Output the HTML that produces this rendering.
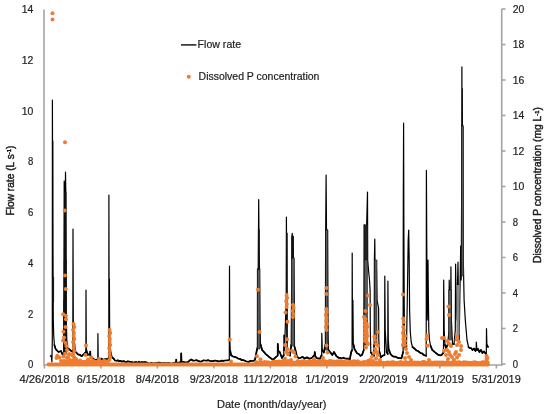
<!DOCTYPE html>
<html><head><meta charset="utf-8"><style>
html,body{margin:0;padding:0;background:#fff;width:550px;height:414px;overflow:hidden}
svg{display:block}
</style></head><body>
<svg width="550" height="414" viewBox="0 0 550 414">
<rect width="550" height="414" fill="#fff"/>
<g stroke="#a4a4a4" stroke-width="1.6" fill="none">
<line x1="44" y1="9.5" x2="44" y2="365.5"/>
<line x1="501.7" y1="9" x2="501.7" y2="365.5"/>
<line x1="43.2" y1="365" x2="502.5" y2="365"/>
<line x1="501.7" y1="364" x2="505.5" y2="364"/><line x1="501.7" y1="328.5" x2="505.5" y2="328.5"/><line x1="501.7" y1="293" x2="505.5" y2="293"/><line x1="501.7" y1="257.5" x2="505.5" y2="257.5"/><line x1="501.7" y1="222" x2="505.5" y2="222"/><line x1="501.7" y1="186.5" x2="505.5" y2="186.5"/><line x1="501.7" y1="151" x2="505.5" y2="151"/><line x1="501.7" y1="115.5" x2="505.5" y2="115.5"/><line x1="501.7" y1="80" x2="505.5" y2="80"/><line x1="501.7" y1="44.5" x2="505.5" y2="44.5"/><line x1="501.7" y1="9" x2="505.5" y2="9"/><line x1="44.4" y1="365" x2="44.4" y2="368.5"/><line x1="100.9" y1="365" x2="100.9" y2="368.5"/><line x1="157.4" y1="365" x2="157.4" y2="368.5"/><line x1="213.9" y1="365" x2="213.9" y2="368.5"/><line x1="270.4" y1="365" x2="270.4" y2="368.5"/><line x1="326.9" y1="365" x2="326.9" y2="368.5"/><line x1="383.4" y1="365" x2="383.4" y2="368.5"/><line x1="439.9" y1="365" x2="439.9" y2="368.5"/><line x1="496.4" y1="365" x2="496.4" y2="368.5"/>
</g>
<polyline points="50,356.5 50.8,355.5 51.4,357 51.9,362 52.3,340 52.4,100 52.6,170 52.85,141 53,250 53.1,278 53.3,320 53.7,335 54.4,345 55.3,348 56,349.5 58.5,352 61,351 62.7,355 63.7,353 64.2,181 64.5,305 65.5,172 65.8,192 66.3,320 66.8,340 67.8,348.4 69.35,349.3 70.9,350.7 72.8,352 73,229 73.3,320 74,340 75.7,352 78,354.4 79.85,354.81 81.7,356.2 84,354 85.9,352 86,290 86.3,350 87.7,355 89.5,354 90.1,355 90.2,351.6 90.5,356 91.85,357.51 93.2,358.6 95.6,360.5 97.8,359 97.9,333.5 98.2,358.6 100,359 101.33,358.57 102.67,359.38 104,359.5 105.5,359.21 107,359.3 108.8,358 108.9,195 109.1,300 109.4,279 109.7,340 110.5,352 111.9,357.4 113.45,358.33 115,360.5 116.4,360.75 117.8,360.33 119.2,361.13 120.6,360.86 122,361.7 123.43,361.17 124.86,361.68 126.29,362.29 127.71,361.34 129.14,361.53 130.57,362.14 132,362 133.38,362.68 134.75,362.21 136.12,362.01 137.5,362.87 138.88,361.62 140.25,362.8 141.62,362.06 143,362.4 144.4,362.08 145.8,362.22 147.2,362.67 148.6,363.56 150,363.3 151.33,362.85 152.67,363.41 154,363.49 155.33,363.12 156.67,363.37 158,362.69 159.33,362.68 160.67,362.89 162,363.55 163.33,363.2 164.67,363.04 166,363.42 167.33,363.23 168.67,363.02 170,363.3 171.53,363.64 173.05,363.43 174.57,362.72 176.1,363 176.2,359.6 176.5,363 178.03,362.77 179.57,362.37 181.1,362 181.2,353.3 181.5,362 183.5,361.8 184.9,362.49 186.3,362.45 187.7,362.3 189.55,360.6 191.4,359.5 193.2,360.67 195,360.5 196.6,360.19 198.2,360.84 199.8,361.53 201.4,361.4 203.2,360.46 205,360.5 206.67,360.65 208.33,360.19 210,361 211.67,361.07 213.33,361.04 215,360.5 216.67,360.77 218.33,361.36 220,361 221.67,360.57 223.33,360.94 225,360.5 226.43,360.47 227.87,360.28 229.3,360 229.5,266 229.8,340 230.3,351 231.1,355.3 233,356.5 234.75,356.94 236.5,357.5 238.25,358.63 240,358.8 241.5,360.02 243,360 244.5,360.56 246,361.2 247.5,361.73 249,361.8 250.5,360.78 252,361 253.5,360.78 255,360 256.5,352 257.4,347.8 257.5,269 258,320 258.5,229.6 258.7,199.5 259.1,250 259.5,269 259.9,320 260.4,344 262.2,350.2 264,352 266,354.4 267.7,355.6 269.5,357.31 271.3,358.6 273.1,359.9 275.5,357.4 277.7,355.6 277.8,343.8 278.2,351 279.7,352 282,358 283.8,355 283.9,335 284.3,350 284.7,345 286.2,300 286.4,217 286.9,300 287.2,352 288.5,354 290,355.7 291.2,345 292,238 292.2,233.4 292.7,240 293.1,236.8 293.4,258 294.3,300 294.5,346.6 295.4,350 297,356.6 298.65,357.99 300.3,358 302.7,356.8 304.5,358.6 307,357.4 309.3,358.6 310.8,358.45 312.3,357.4 314.5,355 314.8,352 315.2,356 316.6,358 318.1,358.35 319.6,359.3 321.7,355 321.8,333.3 322.3,350.2 323.8,352.6 325.4,345 325.6,240 326.1,175 326.5,229.6 327.1,240 327.6,230 327.9,300 328.2,340 328.6,350.2 330.5,352.6 332.3,355 334,352 336.5,356.2 339,358 340.5,357.97 342,358.49 343.5,357.71 345,358.5 346.6,358.71 348.2,358.57 349.8,359.3 351.2,352 352.1,350.2 352.2,253 352.5,340 352.9,300 353.3,344 354.5,349 357,353.3 358.75,354.01 360.5,355.8 362,355 363.8,350 364.1,224.7 364.3,340 365.5,300 366.5,230 367.5,192 367.7,260 368.5,270 369.5,280 370.1,290 370.3,330 370.8,352.5 372,354 374.1,355.8 374.2,345 374.4,260 374.8,239 375.3,300 376.5,269 377,300 378.6,308 378.8,340 379.5,352 380.8,357.5 382.7,355.63 384.6,355 384.8,276 385.2,330 386.5,352 387.8,354 387.9,281 388.3,340 389,350 390.5,354 392.15,355.73 393.8,356.7 395.2,356.61 396.6,357.21 398,358 399.75,358.05 401.5,358.4 403.1,352 403.3,200 403.6,123.2 403.9,239 404.2,300 404.5,345 405.5,348 406.5,346 407.3,300 408.2,240 408.7,230 409.2,260 409.6,310 410.3,332 411.2,342 412.5,347 415,349 416.5,350.52 418,351 420.5,353 422.15,353.41 423.8,355 426.2,355.8 426.4,170.3 426.8,250 427.2,320 427.6,300 428,260 428.4,300 428.8,330 429.5,340 430.5,345.7 432.3,350 433.7,351.1 435.1,352.4 436.5,353.5 437.93,354.64 439.37,355.15 440.8,355.3 442.15,354.41 443.5,352.5 443.7,280 444.2,330 445,345 446,348 447.5,345 449.1,330 449.2,280.2 449.7,300 450.8,290 450.9,266.9 451.4,320 452.5,344 454,344 455.3,330 455.6,264 456.2,300 457,320 457.4,290 458,262 458.5,300 459.2,340 459.8,300 460.4,265 460.7,246 461.2,280 461.6,200 461.9,66.9 462,130 462.3,88.6 462.4,140 462.7,125 462.9,200 463.3,260 463.8,285 464.1,300 465.3,320 467,340 468.5,347 469.5,348 471,348 472.5,350 474,348.5 475.5,351 476.2,349 476.3,342 476.9,350 478,349 479.5,352 481,350 482.5,353 484,351.5 486.3,354.5 486.5,328.7 486.9,345 488,347" fill="none" stroke="#000" stroke-width="1.2" stroke-linejoin="round"/>
<path d="M54.4,345 L55.3,348 L56,349.5 L58.5,352 L61,351 L62.7,355 L63.7,353M67.8,348.4 L69.35,349.3 L70.9,350.7 L72.8,352M75.7,352 L78,354.4 L79.85,354.81 L81.7,356.2 L84,354 L85.9,352M86.3,350 L87.7,355 L89.5,354 L90.1,355 L90.2,351.6 L90.5,356 L91.85,357.51 L93.2,358.6 L95.6,360.5 L97.8,359M98.2,358.6 L100,359 L101.33,358.57 L102.67,359.38 L104,359.5 L105.5,359.21 L107,359.3 L108.8,358M110.5,352 L111.9,357.4 L113.45,358.33 L115,360.5 L116.4,360.75 L117.8,360.33 L119.2,361.13 L120.6,360.86 L122,361.7 L123.43,361.17 L124.86,361.68 L126.29,362.29 L127.71,361.34 L129.14,361.53 L130.57,362.14 L132,362 L133.38,362.68 L134.75,362.21 L136.12,362.01 L137.5,362.87 L138.88,361.62 L140.25,362.8 L141.62,362.06 L143,362.4 L144.4,362.08 L145.8,362.22 L147.2,362.67 L148.6,363.56 L150,363.3 L151.33,362.85 L152.67,363.41 L154,363.49 L155.33,363.12 L156.67,363.37 L158,362.69 L159.33,362.68 L160.67,362.89 L162,363.55 L163.33,363.2 L164.67,363.04 L166,363.42 L167.33,363.23 L168.67,363.02 L170,363.3 L171.53,363.64 L173.05,363.43 L174.57,362.72 L176.1,363 L176.2,359.6 L176.5,363 L178.03,362.77 L179.57,362.37 L181.1,362 L181.2,353.3 L181.5,362 L183.5,361.8 L184.9,362.49 L186.3,362.45 L187.7,362.3 L189.55,360.6 L191.4,359.5 L193.2,360.67 L195,360.5 L196.6,360.19 L198.2,360.84 L199.8,361.53 L201.4,361.4 L203.2,360.46 L205,360.5 L206.67,360.65 L208.33,360.19 L210,361 L211.67,361.07 L213.33,361.04 L215,360.5 L216.67,360.77 L218.33,361.36 L220,361 L221.67,360.57 L223.33,360.94 L225,360.5 L226.43,360.47 L227.87,360.28 L229.3,360M230.3,351 L231.1,355.3 L233,356.5 L234.75,356.94 L236.5,357.5 L238.25,358.63 L240,358.8 L241.5,360.02 L243,360 L244.5,360.56 L246,361.2 L247.5,361.73 L249,361.8 L250.5,360.78 L252,361 L253.5,360.78 L255,360 L256.5,352 L257.4,347.8M260.4,344 L262.2,350.2 L264,352 L266,354.4 L267.7,355.6 L269.5,357.31 L271.3,358.6 L273.1,359.9 L275.5,357.4 L277.7,355.6 L277.8,343.8 L278.2,351 L279.7,352 L282,358 L283.8,355M284.3,350 L284.7,345M287.2,352 L288.5,354 L290,355.7 L291.2,345M294.5,346.6 L295.4,350 L297,356.6 L298.65,357.99 L300.3,358 L302.7,356.8 L304.5,358.6 L307,357.4 L309.3,358.6 L310.8,358.45 L312.3,357.4 L314.5,355 L314.8,352 L315.2,356 L316.6,358 L318.1,358.35 L319.6,359.3 L321.7,355M322.3,350.2 L323.8,352.6 L325.4,345M328.6,350.2 L330.5,352.6 L332.3,355 L334,352 L336.5,356.2 L339,358 L340.5,357.97 L342,358.49 L343.5,357.71 L345,358.5 L346.6,358.71 L348.2,358.57 L349.8,359.3 L351.2,352 L352.1,350.2M353.3,344 L354.5,349 L357,353.3 L358.75,354.01 L360.5,355.8 L362,355 L363.8,350M370.8,352.5 L372,354 L374.1,355.8 L374.2,345M379.5,352 L380.8,357.5 L382.7,355.63 L384.6,355M386.5,352 L387.8,354M389,350 L390.5,354 L392.15,355.73 L393.8,356.7 L395.2,356.61 L396.6,357.21 L398,358 L399.75,358.05 L401.5,358.4 L403.1,352M404.5,345 L405.5,348 L406.5,346M412.5,347 L415,349 L416.5,350.52 L418,351 L420.5,353 L422.15,353.41 L423.8,355 L426.2,355.8M430.5,345.7 L432.3,350 L433.7,351.1 L435.1,352.4 L436.5,353.5 L437.93,354.64 L439.37,355.15 L440.8,355.3 L442.15,354.41 L443.5,352.5M445,345 L446,348 L447.5,345M452.5,344 L454,344M468.5,347 L469.5,348 L471,348 L472.5,350 L474,348.5 L475.5,351 L476.2,349M476.9,350 L478,349 L479.5,352 L481,350 L482.5,353 L484,351.5 L486.3,354.5M486.9,345 L488,347" fill="none" stroke="#000" stroke-width="1.75" stroke-linejoin="round" stroke-linecap="round"/>
<g fill="#5a5a5a" stroke="#151515" stroke-width="0.55"><rect x="461.5" y="126" width="2.2" height="150"/><rect x="64.6" y="192" width="1.5" height="70" fill="#111"/><rect x="64.1" y="260" width="2.4" height="45" fill="#111"/><rect x="63.6" y="300" width="3" height="54" fill="#111"/><rect x="52.5" y="277" width="1.3" height="25" fill="#111"/><rect x="257.4" y="269" width="2.6" height="80"/><rect x="291.4" y="258" width="3.1" height="88"/><rect x="291.6" y="236" width="1.9" height="22" fill="#111"/><rect x="286.3" y="233" width="1.1" height="110" fill="#111"/><rect x="258.2" y="229.6" width="1.2" height="40" fill="#111"/><rect x="325.7" y="230" width="2.1" height="120"/><rect x="364.3" y="225" width="3.2" height="120"/><rect x="364.3" y="225" width="3.2" height="35" fill="#222"/><rect x="374.5" y="260" width="2.5" height="85"/><rect x="456.4" y="285" width="3.2" height="50" fill="#8a8a8a" stroke="none"/><rect x="448.6" y="290" width="2.8" height="50"/></g>
<g fill="#ED7D31"><circle cx="52.5" cy="13.3" r="2.0"/><circle cx="52.5" cy="19.6" r="2.0"/><circle cx="65" cy="142.2" r="2.0"/><circle cx="64.6" cy="210.6" r="2.0"/><circle cx="65" cy="275.5" r="2.0"/><circle cx="65.8" cy="289" r="2.0"/><circle cx="63.2" cy="314.3" r="2.0"/><circle cx="66" cy="315.8" r="2.0"/><circle cx="66" cy="319.2" r="2.0"/><circle cx="65.5" cy="326.9" r="2.0"/><circle cx="63.5" cy="331.7" r="2.0"/><circle cx="63.1" cy="340.6" r="2.0"/><circle cx="64" cy="337.5" r="2.0"/><circle cx="65.5" cy="343" r="2.0"/><circle cx="66.5" cy="346" r="2.0"/><circle cx="67" cy="350" r="2.0"/><circle cx="57.3" cy="355.7" r="2.0"/><circle cx="59.5" cy="357.5" r="2.0"/><circle cx="56.5" cy="358" r="2.0"/><circle cx="63.5" cy="356.5" r="2.0"/><circle cx="65" cy="353.8" r="2.0"/><circle cx="68" cy="357" r="2.0"/><circle cx="70" cy="360" r="2.0"/><circle cx="72" cy="355" r="2.0"/><circle cx="61" cy="361" r="2.0"/><circle cx="64" cy="361" r="2.0"/><circle cx="73.6" cy="324" r="2.0"/><circle cx="74.3" cy="327" r="2.0"/><circle cx="73.1" cy="330" r="2.0"/><circle cx="74" cy="333" r="2.0"/><circle cx="73.6" cy="336" r="2.0"/><circle cx="74.3" cy="339" r="2.0"/><circle cx="73.1" cy="342" r="2.0"/><circle cx="74" cy="345" r="2.0"/><circle cx="73.6" cy="348" r="2.0"/><circle cx="74.3" cy="351" r="2.0"/><circle cx="73.1" cy="354" r="2.0"/><circle cx="74" cy="357" r="2.0"/><circle cx="73.6" cy="360" r="2.0"/><circle cx="86" cy="345.6" r="2.0"/><circle cx="85.5" cy="355" r="2.0"/><circle cx="91" cy="357.5" r="2.0"/><circle cx="69" cy="354" r="2.0"/><circle cx="67" cy="358" r="2.0"/><circle cx="76" cy="359" r="2.0"/><circle cx="80" cy="360.5" r="2.0"/><circle cx="88" cy="359.5" r="2.0"/><circle cx="93" cy="360.5" r="2.0"/><circle cx="99" cy="359" r="2.0"/><circle cx="104" cy="361" r="2.0"/><circle cx="109.6" cy="330" r="2.0"/><circle cx="110.2" cy="333" r="2.0"/><circle cx="109.2" cy="336" r="2.0"/><circle cx="109.9" cy="339" r="2.0"/><circle cx="109.6" cy="342" r="2.0"/><circle cx="110.2" cy="345" r="2.0"/><circle cx="109.2" cy="348" r="2.0"/><circle cx="109.9" cy="351" r="2.0"/><circle cx="109.6" cy="354" r="2.0"/><circle cx="110.2" cy="357" r="2.0"/><circle cx="109.2" cy="360" r="2.0"/><circle cx="229.8" cy="339.5" r="2.0"/><circle cx="231" cy="361.4" r="2.0"/><circle cx="257" cy="356.2" r="2.0"/><circle cx="259.5" cy="332" r="2.0"/><circle cx="258" cy="289.8" r="2.0"/><circle cx="260.5" cy="359.3" r="2.0"/><circle cx="286.6" cy="295" r="2.0"/><circle cx="287.2" cy="298" r="2.0"/><circle cx="286.2" cy="301" r="2.0"/><circle cx="286.9" cy="304" r="2.0"/><circle cx="286.6" cy="307" r="2.0"/><circle cx="285.5" cy="312.6" r="2.0"/><circle cx="287.5" cy="321.7" r="2.0"/><circle cx="287" cy="339.2" r="2.0"/><circle cx="285" cy="345.1" r="2.0"/><circle cx="287.5" cy="349.3" r="2.0"/><circle cx="286.5" cy="352" r="2.0"/><circle cx="288" cy="354.3" r="2.0"/><circle cx="285" cy="358.4" r="2.0"/><circle cx="288" cy="361" r="2.0"/><circle cx="281" cy="362" r="2.0"/><circle cx="277" cy="362" r="2.0"/><circle cx="279" cy="361.5" r="2.0"/><circle cx="283" cy="361" r="2.0"/><circle cx="293" cy="305" r="2.0"/><circle cx="293.6" cy="308" r="2.0"/><circle cx="292.6" cy="311" r="2.0"/><circle cx="293.3" cy="314" r="2.0"/><circle cx="293" cy="317" r="2.0"/><circle cx="292" cy="350.8" r="2.0"/><circle cx="294" cy="352.5" r="2.0"/><circle cx="295.5" cy="356.6" r="2.0"/><circle cx="314" cy="359.3" r="2.0"/><circle cx="291" cy="360" r="2.0"/><circle cx="298" cy="361" r="2.0"/><circle cx="302" cy="361.5" r="2.0"/><circle cx="308" cy="361.5" r="2.0"/><circle cx="318" cy="361" r="2.0"/><circle cx="326.5" cy="288" r="2.0"/><circle cx="326.5" cy="294" r="2.0"/><circle cx="326.3" cy="309" r="2.0"/><circle cx="326.9" cy="312" r="2.0"/><circle cx="325.9" cy="315" r="2.0"/><circle cx="326.6" cy="318" r="2.0"/><circle cx="326.3" cy="321" r="2.0"/><circle cx="326.9" cy="324" r="2.0"/><circle cx="325.9" cy="327" r="2.0"/><circle cx="326.6" cy="330" r="2.0"/><circle cx="326.5" cy="345.4" r="2.0"/><circle cx="327.5" cy="352.6" r="2.0"/><circle cx="323" cy="358" r="2.0"/><circle cx="323" cy="361" r="2.0"/><circle cx="330" cy="361" r="2.0"/><circle cx="334" cy="361.5" r="2.0"/><circle cx="340" cy="361.5" r="2.0"/><circle cx="370" cy="305" r="2.0"/><circle cx="365.5" cy="311" r="2.0"/><circle cx="364" cy="317" r="2.0"/><circle cx="368" cy="295.4" r="2.0"/><circle cx="365.4" cy="319" r="2.0"/><circle cx="364.8" cy="321" r="2.0"/><circle cx="365.4" cy="323" r="2.0"/><circle cx="364.8" cy="325" r="2.0"/><circle cx="365.4" cy="327" r="2.0"/><circle cx="364.8" cy="329" r="2.0"/><circle cx="365.4" cy="331" r="2.0"/><circle cx="364.8" cy="333" r="2.0"/><circle cx="365.4" cy="335" r="2.0"/><circle cx="364.8" cy="337" r="2.0"/><circle cx="365.4" cy="339" r="2.0"/><circle cx="364.8" cy="341" r="2.0"/><circle cx="366.8" cy="324" r="2.0"/><circle cx="367.3" cy="327" r="2.0"/><circle cx="366.5" cy="330" r="2.0"/><circle cx="366.8" cy="333" r="2.0"/><circle cx="367.3" cy="336" r="2.0"/><circle cx="366.5" cy="339" r="2.0"/><circle cx="366.8" cy="342" r="2.0"/><circle cx="366" cy="347.4" r="2.0"/><circle cx="368" cy="344" r="2.0"/><circle cx="378" cy="332" r="2.0"/><circle cx="374.5" cy="336.4" r="2.0"/><circle cx="375" cy="340" r="2.0"/><circle cx="376" cy="344" r="2.0"/><circle cx="378" cy="345.7" r="2.0"/><circle cx="375" cy="349" r="2.0"/><circle cx="377" cy="352" r="2.0"/><circle cx="372" cy="356.7" r="2.0"/><circle cx="376" cy="358.4" r="2.0"/><circle cx="380" cy="360" r="2.0"/><circle cx="373" cy="361" r="2.0"/><circle cx="370" cy="360" r="2.0"/><circle cx="368" cy="361" r="2.0"/><circle cx="378" cy="355" r="2.0"/><circle cx="374" cy="353" r="2.0"/><circle cx="403" cy="294.5" r="2.0"/><circle cx="403.2" cy="318.5" r="2.0"/><circle cx="403.6" cy="322" r="2.0"/><circle cx="403.3" cy="327" r="2.0"/><circle cx="403.9" cy="330" r="2.0"/><circle cx="402.9" cy="333" r="2.0"/><circle cx="403.6" cy="336" r="2.0"/><circle cx="403.3" cy="339" r="2.0"/><circle cx="403.9" cy="342" r="2.0"/><circle cx="402.9" cy="345" r="2.0"/><circle cx="405.2" cy="336" r="2.0"/><circle cx="405" cy="341" r="2.0"/><circle cx="405" cy="345" r="2.0"/><circle cx="406" cy="349" r="2.0"/><circle cx="407" cy="353" r="2.0"/><circle cx="409" cy="357" r="2.0"/><circle cx="405" cy="358" r="2.0"/><circle cx="411" cy="360" r="2.0"/><circle cx="427" cy="335.5" r="2.0"/><circle cx="426.5" cy="339" r="2.0"/><circle cx="427.5" cy="345.7" r="2.0"/><circle cx="429" cy="360" r="2.0"/><circle cx="444" cy="338" r="2.0"/><circle cx="444" cy="350.8" r="2.0"/><circle cx="448.5" cy="306.4" r="2.0"/><circle cx="449" cy="315" r="2.0"/><circle cx="442" cy="338" r="2.0"/><circle cx="447.5" cy="340.9" r="2.0"/><circle cx="449" cy="343.8" r="2.0"/><circle cx="451" cy="346" r="2.0"/><circle cx="447" cy="350" r="2.0"/><circle cx="449" cy="352" r="2.0"/><circle cx="446" cy="355" r="2.0"/><circle cx="450" cy="355" r="2.0"/><circle cx="457" cy="336.2" r="2.0"/><circle cx="456.5" cy="339.7" r="2.0"/><circle cx="459" cy="342" r="2.0"/><circle cx="457" cy="345" r="2.0"/><circle cx="461" cy="346" r="2.0"/><circle cx="461" cy="350" r="2.0"/><circle cx="456" cy="352" r="2.0"/><circle cx="459" cy="355" r="2.0"/><circle cx="457" cy="357.5" r="2.0"/><circle cx="455" cy="354" r="2.0"/><circle cx="452" cy="357" r="2.0"/><circle cx="454" cy="360" r="2.0"/><circle cx="448" cy="359" r="2.0"/><circle cx="486.5" cy="356" r="2.0"/><circle cx="486.5" cy="359" r="2.0"/><circle cx="486.5" cy="362" r="2.0"/><circle cx="487.5" cy="358" r="2.0"/><circle cx="48.5" cy="364.6" r="2.0"/><circle cx="50" cy="364.6" r="2.0"/><circle cx="51.5" cy="364.6" r="2.0"/><circle cx="53" cy="364.6" r="2.0"/><circle cx="54.5" cy="364.6" r="2.0"/><circle cx="56" cy="364.6" r="2.0"/><circle cx="57.5" cy="364.6" r="2.0"/><circle cx="59" cy="364.6" r="2.0"/><circle cx="60.5" cy="364.6" r="2.0"/><circle cx="62" cy="364.6" r="2.0"/><circle cx="63.5" cy="364.6" r="2.0"/><circle cx="65" cy="364.6" r="2.0"/><circle cx="66.5" cy="364.6" r="2.0"/><circle cx="68" cy="364.6" r="2.0"/><circle cx="69.5" cy="364.6" r="2.0"/><circle cx="71" cy="364.6" r="2.0"/><circle cx="72.5" cy="364.6" r="2.0"/><circle cx="74" cy="364.6" r="2.0"/><circle cx="75.5" cy="364.6" r="2.0"/><circle cx="77" cy="364.6" r="2.0"/><circle cx="78.5" cy="364.6" r="2.0"/><circle cx="80" cy="364.6" r="2.0"/><circle cx="81.5" cy="364.6" r="2.0"/><circle cx="83" cy="364.6" r="2.0"/><circle cx="84.5" cy="364.6" r="2.0"/><circle cx="86" cy="364.6" r="2.0"/><circle cx="87.5" cy="364.6" r="2.0"/><circle cx="89" cy="364.6" r="2.0"/><circle cx="90.5" cy="364.6" r="2.0"/><circle cx="92" cy="364.6" r="2.0"/><circle cx="93.5" cy="364.6" r="2.0"/><circle cx="95" cy="364.6" r="2.0"/><circle cx="96.5" cy="364.6" r="2.0"/><circle cx="98" cy="364.6" r="2.0"/><circle cx="99.5" cy="364.6" r="2.0"/><circle cx="101" cy="364.6" r="2.0"/><circle cx="102.5" cy="364.6" r="2.0"/><circle cx="104" cy="364.6" r="2.0"/><circle cx="105.5" cy="364.6" r="2.0"/><circle cx="107" cy="364.6" r="2.0"/><circle cx="108.5" cy="364.6" r="2.0"/><circle cx="110" cy="364.6" r="2.0"/><circle cx="111.5" cy="364.6" r="2.0"/><circle cx="113" cy="364.6" r="2.0"/><circle cx="114.5" cy="364.6" r="2.0"/><circle cx="116" cy="364.6" r="2.0"/><circle cx="117.5" cy="364.6" r="2.0"/><circle cx="119" cy="364.6" r="2.0"/><circle cx="120.5" cy="364.6" r="2.0"/><circle cx="122" cy="364.6" r="2.0"/><circle cx="123.5" cy="364.6" r="2.0"/><circle cx="125" cy="364.6" r="2.0"/><circle cx="126.5" cy="364.6" r="2.0"/><circle cx="128" cy="364.6" r="2.0"/><circle cx="129.5" cy="364.6" r="2.0"/><circle cx="131" cy="364.6" r="2.0"/><circle cx="132.5" cy="364.6" r="2.0"/><circle cx="134" cy="364.6" r="2.0"/><circle cx="135.5" cy="364.6" r="2.0"/><circle cx="137" cy="364.6" r="2.0"/><circle cx="138.5" cy="364.6" r="2.0"/><circle cx="140" cy="364.6" r="2.0"/><circle cx="141.5" cy="364.6" r="2.0"/><circle cx="143" cy="364.6" r="2.0"/><circle cx="144.5" cy="364.6" r="2.0"/><circle cx="146" cy="364.6" r="2.0"/><circle cx="147.5" cy="364.6" r="2.0"/><circle cx="149" cy="364.6" r="2.0"/><circle cx="150.5" cy="364.6" r="2.0"/><circle cx="152" cy="364.6" r="2.0"/><circle cx="153.5" cy="364.6" r="2.0"/><circle cx="155" cy="364.6" r="2.0"/><circle cx="156.5" cy="364.6" r="2.0"/><circle cx="158" cy="364.6" r="2.0"/><circle cx="159.5" cy="364.6" r="2.0"/><circle cx="161" cy="364.6" r="2.0"/><circle cx="162.5" cy="364.6" r="2.0"/><circle cx="164" cy="364.6" r="2.0"/><circle cx="165.5" cy="364.6" r="2.0"/><circle cx="167" cy="364.6" r="2.0"/><circle cx="168.5" cy="364.6" r="2.0"/><circle cx="170" cy="364.6" r="2.0"/><circle cx="171.5" cy="364.6" r="2.0"/><circle cx="173" cy="364.6" r="2.0"/><circle cx="174.5" cy="364.6" r="2.0"/><circle cx="176" cy="364.6" r="2.0"/><circle cx="177.5" cy="364.6" r="2.0"/><circle cx="179" cy="364.6" r="2.0"/><circle cx="180.5" cy="364.6" r="2.0"/><circle cx="182" cy="364.6" r="2.0"/><circle cx="183.5" cy="364.6" r="2.0"/><circle cx="185" cy="364.6" r="2.0"/><circle cx="186.5" cy="364.6" r="2.0"/><circle cx="188" cy="364.6" r="2.0"/><circle cx="189.5" cy="364.6" r="2.0"/><circle cx="191" cy="364.6" r="2.0"/><circle cx="192.5" cy="364.6" r="2.0"/><circle cx="194" cy="364.6" r="2.0"/><circle cx="195.5" cy="364.6" r="2.0"/><circle cx="197" cy="364.6" r="2.0"/><circle cx="198.5" cy="364.6" r="2.0"/><circle cx="200" cy="364.6" r="2.0"/><circle cx="201.5" cy="364.6" r="2.0"/><circle cx="203" cy="364.6" r="2.0"/><circle cx="204.5" cy="364.6" r="2.0"/><circle cx="206" cy="364.6" r="2.0"/><circle cx="207.5" cy="364.6" r="2.0"/><circle cx="209" cy="364.6" r="2.0"/><circle cx="210.5" cy="364.6" r="2.0"/><circle cx="212" cy="364.6" r="2.0"/><circle cx="213.5" cy="364.6" r="2.0"/><circle cx="215" cy="364.6" r="2.0"/><circle cx="216.5" cy="364.6" r="2.0"/><circle cx="218" cy="364.6" r="2.0"/><circle cx="219.5" cy="364.6" r="2.0"/><circle cx="221" cy="364.6" r="2.0"/><circle cx="222.5" cy="364.6" r="2.0"/><circle cx="224" cy="364.6" r="2.0"/><circle cx="225.5" cy="364.6" r="2.0"/><circle cx="227" cy="364.6" r="2.0"/><circle cx="228.5" cy="364.6" r="2.0"/><circle cx="230" cy="364.6" r="2.0"/><circle cx="231.5" cy="364.6" r="2.0"/><circle cx="233" cy="364.6" r="2.0"/><circle cx="234.5" cy="364.6" r="2.0"/><circle cx="236" cy="364.6" r="2.0"/><circle cx="237.5" cy="364.6" r="2.0"/><circle cx="239" cy="364.6" r="2.0"/><circle cx="240.5" cy="364.6" r="2.0"/><circle cx="242" cy="364.6" r="2.0"/><circle cx="243.5" cy="364.6" r="2.0"/><circle cx="245" cy="364.6" r="2.0"/><circle cx="246.5" cy="364.6" r="2.0"/><circle cx="248" cy="364.6" r="2.0"/><circle cx="249.5" cy="364.6" r="2.0"/><circle cx="251" cy="364.6" r="2.0"/><circle cx="252.5" cy="364.6" r="2.0"/><circle cx="254" cy="364.6" r="2.0"/><circle cx="255.5" cy="364.6" r="2.0"/><circle cx="257" cy="364.6" r="2.0"/><circle cx="258.5" cy="364.6" r="2.0"/><circle cx="260" cy="364.6" r="2.0"/><circle cx="261.5" cy="364.6" r="2.0"/><circle cx="263" cy="364.6" r="2.0"/><circle cx="264.5" cy="364.6" r="2.0"/><circle cx="266" cy="364.6" r="2.0"/><circle cx="267.5" cy="364.6" r="2.0"/><circle cx="269" cy="364.6" r="2.0"/><circle cx="270.5" cy="364.6" r="2.0"/><circle cx="272" cy="364.6" r="2.0"/><circle cx="273.5" cy="364.6" r="2.0"/><circle cx="275" cy="364.6" r="2.0"/><circle cx="276.5" cy="364.6" r="2.0"/><circle cx="278" cy="364.6" r="2.0"/><circle cx="279.5" cy="364.6" r="2.0"/><circle cx="281" cy="364.6" r="2.0"/><circle cx="282.5" cy="364.6" r="2.0"/><circle cx="284" cy="364.6" r="2.0"/><circle cx="285.5" cy="364.6" r="2.0"/><circle cx="287" cy="364.6" r="2.0"/><circle cx="288.5" cy="364.6" r="2.0"/><circle cx="290" cy="364.6" r="2.0"/><circle cx="291.5" cy="364.6" r="2.0"/><circle cx="293" cy="364.6" r="2.0"/><circle cx="294.5" cy="364.6" r="2.0"/><circle cx="296" cy="364.6" r="2.0"/><circle cx="297.5" cy="364.6" r="2.0"/><circle cx="299" cy="364.6" r="2.0"/><circle cx="300.5" cy="364.6" r="2.0"/><circle cx="302" cy="364.6" r="2.0"/><circle cx="303.5" cy="364.6" r="2.0"/><circle cx="305" cy="364.6" r="2.0"/><circle cx="306.5" cy="364.6" r="2.0"/><circle cx="308" cy="364.6" r="2.0"/><circle cx="309.5" cy="364.6" r="2.0"/><circle cx="311" cy="364.6" r="2.0"/><circle cx="312.5" cy="364.6" r="2.0"/><circle cx="314" cy="364.6" r="2.0"/><circle cx="315.5" cy="364.6" r="2.0"/><circle cx="317" cy="364.6" r="2.0"/><circle cx="318.5" cy="364.6" r="2.0"/><circle cx="320" cy="364.6" r="2.0"/><circle cx="321.5" cy="364.6" r="2.0"/><circle cx="323" cy="364.6" r="2.0"/><circle cx="324.5" cy="364.6" r="2.0"/><circle cx="326" cy="364.6" r="2.0"/><circle cx="327.5" cy="364.6" r="2.0"/><circle cx="329" cy="364.6" r="2.0"/><circle cx="330.5" cy="364.6" r="2.0"/><circle cx="332" cy="364.6" r="2.0"/><circle cx="333.5" cy="364.6" r="2.0"/><circle cx="335" cy="364.6" r="2.0"/><circle cx="336.5" cy="364.6" r="2.0"/><circle cx="338" cy="364.6" r="2.0"/><circle cx="339.5" cy="364.6" r="2.0"/><circle cx="341" cy="364.6" r="2.0"/><circle cx="342.5" cy="364.6" r="2.0"/><circle cx="344" cy="364.6" r="2.0"/><circle cx="345.5" cy="364.6" r="2.0"/><circle cx="347" cy="364.6" r="2.0"/><circle cx="348.5" cy="364.6" r="2.0"/><circle cx="350" cy="364.6" r="2.0"/><circle cx="351.5" cy="364.6" r="2.0"/><circle cx="353" cy="364.6" r="2.0"/><circle cx="354.5" cy="364.6" r="2.0"/><circle cx="356" cy="364.6" r="2.0"/><circle cx="357.5" cy="364.6" r="2.0"/><circle cx="359" cy="364.6" r="2.0"/><circle cx="360.5" cy="364.6" r="2.0"/><circle cx="362" cy="364.6" r="2.0"/><circle cx="363.5" cy="364.6" r="2.0"/><circle cx="365" cy="364.6" r="2.0"/><circle cx="366.5" cy="364.6" r="2.0"/><circle cx="368" cy="364.6" r="2.0"/><circle cx="369.5" cy="364.6" r="2.0"/><circle cx="371" cy="364.6" r="2.0"/><circle cx="372.5" cy="364.6" r="2.0"/><circle cx="374" cy="364.6" r="2.0"/><circle cx="375.5" cy="364.6" r="2.0"/><circle cx="377" cy="364.6" r="2.0"/><circle cx="378.5" cy="364.6" r="2.0"/><circle cx="380" cy="364.6" r="2.0"/><circle cx="381.5" cy="364.6" r="2.0"/><circle cx="383" cy="364.6" r="2.0"/><circle cx="384.5" cy="364.6" r="2.0"/><circle cx="386" cy="364.6" r="2.0"/><circle cx="387.5" cy="364.6" r="2.0"/><circle cx="389" cy="364.6" r="2.0"/><circle cx="390.5" cy="364.6" r="2.0"/><circle cx="392" cy="364.6" r="2.0"/><circle cx="393.5" cy="364.6" r="2.0"/><circle cx="395" cy="364.6" r="2.0"/><circle cx="396.5" cy="364.6" r="2.0"/><circle cx="398" cy="364.6" r="2.0"/><circle cx="399.5" cy="364.6" r="2.0"/><circle cx="401" cy="364.6" r="2.0"/><circle cx="402.5" cy="364.6" r="2.0"/><circle cx="404" cy="364.6" r="2.0"/><circle cx="405.5" cy="364.6" r="2.0"/><circle cx="407" cy="364.6" r="2.0"/><circle cx="408.5" cy="364.6" r="2.0"/><circle cx="410" cy="364.6" r="2.0"/><circle cx="411.5" cy="364.6" r="2.0"/><circle cx="413" cy="364.6" r="2.0"/><circle cx="414.5" cy="364.6" r="2.0"/><circle cx="416" cy="364.6" r="2.0"/><circle cx="417.5" cy="364.6" r="2.0"/><circle cx="419" cy="364.6" r="2.0"/><circle cx="420.5" cy="364.6" r="2.0"/><circle cx="422" cy="364.6" r="2.0"/><circle cx="423.5" cy="364.6" r="2.0"/><circle cx="425" cy="364.6" r="2.0"/><circle cx="426.5" cy="364.6" r="2.0"/><circle cx="428" cy="364.6" r="2.0"/><circle cx="429.5" cy="364.6" r="2.0"/><circle cx="431" cy="364.6" r="2.0"/><circle cx="432.5" cy="364.6" r="2.0"/><circle cx="434" cy="364.6" r="2.0"/><circle cx="435.5" cy="364.6" r="2.0"/><circle cx="437" cy="364.6" r="2.0"/><circle cx="438.5" cy="364.6" r="2.0"/><circle cx="440" cy="364.6" r="2.0"/><circle cx="441.5" cy="364.6" r="2.0"/><circle cx="443" cy="364.6" r="2.0"/><circle cx="444.5" cy="364.6" r="2.0"/><circle cx="446" cy="364.6" r="2.0"/><circle cx="447.5" cy="364.6" r="2.0"/><circle cx="449" cy="364.6" r="2.0"/><circle cx="450.5" cy="364.6" r="2.0"/><circle cx="452" cy="364.6" r="2.0"/><circle cx="453.5" cy="364.6" r="2.0"/><circle cx="455" cy="364.6" r="2.0"/><circle cx="456.5" cy="364.6" r="2.0"/><circle cx="458" cy="364.6" r="2.0"/><circle cx="459.5" cy="364.6" r="2.0"/><circle cx="461" cy="364.6" r="2.0"/><circle cx="462.5" cy="364.6" r="2.0"/><circle cx="464" cy="364.6" r="2.0"/><circle cx="465.5" cy="364.6" r="2.0"/><circle cx="467" cy="364.6" r="2.0"/><circle cx="468.5" cy="364.6" r="2.0"/><circle cx="470" cy="364.6" r="2.0"/><circle cx="471.5" cy="364.6" r="2.0"/><circle cx="473" cy="364.6" r="2.0"/><circle cx="474.5" cy="364.6" r="2.0"/><circle cx="476" cy="364.6" r="2.0"/><circle cx="477.5" cy="364.6" r="2.0"/><circle cx="479" cy="364.6" r="2.0"/><circle cx="480.5" cy="364.6" r="2.0"/><circle cx="482" cy="364.6" r="2.0"/><circle cx="483.5" cy="364.6" r="2.0"/><circle cx="485" cy="364.6" r="2.0"/><circle cx="486.5" cy="364.6" r="2.0"/><circle cx="488" cy="364.6" r="2.0"/><circle cx="63" cy="361.39" r="2.0"/><circle cx="64.7" cy="361.75" r="2.0"/><circle cx="66.4" cy="361.54" r="2.0"/><circle cx="68.1" cy="361.82" r="2.0"/><circle cx="69.8" cy="361.85" r="2.0"/><circle cx="71.5" cy="361.18" r="2.0"/><circle cx="73.2" cy="361.12" r="2.0"/><circle cx="74.9" cy="362.1" r="2.0"/><circle cx="76.6" cy="361.41" r="2.0"/><circle cx="78.3" cy="361.38" r="2.0"/><circle cx="80" cy="362.29" r="2.0"/><circle cx="81.7" cy="361.66" r="2.0"/><circle cx="83.4" cy="362.1" r="2.0"/><circle cx="85.1" cy="361.67" r="2.0"/><circle cx="86.8" cy="361.87" r="2.0"/><circle cx="88.5" cy="361.28" r="2.0"/><circle cx="90.2" cy="361.86" r="2.0"/><circle cx="91.9" cy="362.14" r="2.0"/><circle cx="93.6" cy="361.73" r="2.0"/><circle cx="95.3" cy="361.99" r="2.0"/><circle cx="97" cy="361.91" r="2.0"/><circle cx="98.7" cy="361.18" r="2.0"/><circle cx="100.4" cy="362.01" r="2.0"/><circle cx="102.1" cy="361.81" r="2.0"/><circle cx="103.8" cy="361.46" r="2.0"/><circle cx="105.5" cy="361.14" r="2.0"/><circle cx="107.2" cy="362.14" r="2.0"/><circle cx="256" cy="362.17" r="2.0"/><circle cx="257.7" cy="362.46" r="2.0"/><circle cx="259.4" cy="362.65" r="2.0"/><circle cx="261.1" cy="362.46" r="2.0"/><circle cx="262.8" cy="362.71" r="2.0"/><circle cx="264.5" cy="362.07" r="2.0"/><circle cx="266.2" cy="362.56" r="2.0"/><circle cx="267.9" cy="362.13" r="2.0"/><circle cx="269.6" cy="362.72" r="2.0"/><circle cx="271.3" cy="362.65" r="2.0"/><circle cx="273" cy="361.72" r="2.0"/><circle cx="274.7" cy="361.76" r="2.0"/><circle cx="276.4" cy="361.86" r="2.0"/><circle cx="278.1" cy="362.76" r="2.0"/><circle cx="279.8" cy="362.12" r="2.0"/><circle cx="281.5" cy="362.35" r="2.0"/><circle cx="283.2" cy="361.96" r="2.0"/><circle cx="284.9" cy="362.21" r="2.0"/><circle cx="286.6" cy="362.06" r="2.0"/><circle cx="288.3" cy="362.02" r="2.0"/><circle cx="290" cy="362.3" r="2.0"/><circle cx="291.7" cy="362.3" r="2.0"/><circle cx="293.4" cy="362.69" r="2.0"/><circle cx="295.1" cy="362.42" r="2.0"/><circle cx="296.8" cy="362.71" r="2.0"/><circle cx="298.5" cy="362.63" r="2.0"/><circle cx="300" cy="362.29" r="2.0"/><circle cx="301.7" cy="361.91" r="2.0"/><circle cx="303.4" cy="361.3" r="2.0"/><circle cx="305.1" cy="362.13" r="2.0"/><circle cx="306.8" cy="362.26" r="2.0"/><circle cx="308.5" cy="362.19" r="2.0"/><circle cx="310.2" cy="361.78" r="2.0"/><circle cx="311.9" cy="361.96" r="2.0"/><circle cx="313.6" cy="361.35" r="2.0"/><circle cx="315.3" cy="362.1" r="2.0"/><circle cx="317" cy="361.79" r="2.0"/><circle cx="318.7" cy="361.44" r="2.0"/><circle cx="320.4" cy="361.18" r="2.0"/><circle cx="322.1" cy="362.12" r="2.0"/><circle cx="323.8" cy="362.29" r="2.0"/><circle cx="325.5" cy="361.21" r="2.0"/><circle cx="327.2" cy="362.06" r="2.0"/><circle cx="328.9" cy="361.59" r="2.0"/><circle cx="330.6" cy="361.28" r="2.0"/><circle cx="332.3" cy="361.45" r="2.0"/><circle cx="334" cy="362.02" r="2.0"/><circle cx="335.7" cy="362.15" r="2.0"/><circle cx="337.4" cy="361.15" r="2.0"/><circle cx="339.1" cy="361.84" r="2.0"/><circle cx="340.8" cy="361.15" r="2.0"/><circle cx="342.5" cy="361.96" r="2.0"/><circle cx="344.2" cy="361.5" r="2.0"/><circle cx="345.9" cy="362.16" r="2.0"/><circle cx="347.6" cy="362.28" r="2.0"/><circle cx="349.3" cy="361.71" r="2.0"/><circle cx="351" cy="362.3" r="2.0"/><circle cx="352.7" cy="361.47" r="2.0"/><circle cx="354.4" cy="361.19" r="2.0"/><circle cx="356.1" cy="361.82" r="2.0"/><circle cx="357.8" cy="361.14" r="2.0"/><circle cx="358" cy="362.24" r="2.0"/><circle cx="359.7" cy="362.49" r="2.0"/><circle cx="361.4" cy="362.73" r="2.0"/><circle cx="363.1" cy="362.19" r="2.0"/><circle cx="364.8" cy="362.05" r="2.0"/><circle cx="366.5" cy="363.04" r="2.0"/><circle cx="368.2" cy="362.38" r="2.0"/><circle cx="369.9" cy="363.15" r="2.0"/><circle cx="371.6" cy="363.08" r="2.0"/><circle cx="373.3" cy="362.45" r="2.0"/><circle cx="375" cy="362.55" r="2.0"/><circle cx="376.7" cy="362.62" r="2.0"/><circle cx="378.4" cy="362.77" r="2.0"/><circle cx="380.1" cy="362.71" r="2.0"/><circle cx="381.8" cy="362.67" r="2.0"/><circle cx="383.5" cy="362.74" r="2.0"/><circle cx="385.2" cy="363.13" r="2.0"/><circle cx="386.9" cy="362.61" r="2.0"/><circle cx="388.6" cy="362.52" r="2.0"/><circle cx="390.3" cy="362.86" r="2.0"/><circle cx="392" cy="362.29" r="2.0"/><circle cx="393.7" cy="362.36" r="2.0"/><circle cx="395.4" cy="363.17" r="2.0"/><circle cx="397.1" cy="362.63" r="2.0"/><circle cx="398.8" cy="362.66" r="2.0"/><circle cx="400.5" cy="362.01" r="2.0"/><circle cx="402.2" cy="362.5" r="2.0"/><circle cx="403.9" cy="362.7" r="2.0"/><circle cx="405.6" cy="362.02" r="2.0"/><circle cx="407.3" cy="362.74" r="2.0"/><circle cx="409" cy="362.76" r="2.0"/><circle cx="410.7" cy="362.07" r="2.0"/><circle cx="412.4" cy="362.75" r="2.0"/><circle cx="414.1" cy="362.56" r="2.0"/><circle cx="415.8" cy="362.82" r="2.0"/><circle cx="417.5" cy="362.42" r="2.0"/><circle cx="419.2" cy="362.85" r="2.0"/><circle cx="420.9" cy="362.89" r="2.0"/><circle cx="422.6" cy="362.03" r="2.0"/><circle cx="424.3" cy="362.07" r="2.0"/><circle cx="426" cy="362.81" r="2.0"/><circle cx="427.7" cy="363.16" r="2.0"/><circle cx="429.4" cy="362.3" r="2.0"/><circle cx="431.1" cy="362.55" r="2.0"/><circle cx="432.8" cy="362.71" r="2.0"/><circle cx="434.5" cy="362.38" r="2.0"/><circle cx="436.2" cy="362.44" r="2.0"/><circle cx="437.9" cy="362.38" r="2.0"/><circle cx="439.6" cy="362.44" r="2.0"/><circle cx="440" cy="362.81" r="2.0"/><circle cx="441.7" cy="362.46" r="2.0"/><circle cx="443.4" cy="362.55" r="2.0"/><circle cx="445.1" cy="363.03" r="2.0"/><circle cx="446.8" cy="362.13" r="2.0"/><circle cx="448.5" cy="362.78" r="2.0"/><circle cx="450.2" cy="362.98" r="2.0"/><circle cx="451.9" cy="362.47" r="2.0"/><circle cx="453.6" cy="362.37" r="2.0"/><circle cx="455.3" cy="363.06" r="2.0"/><circle cx="457" cy="362.39" r="2.0"/><circle cx="458.7" cy="362.32" r="2.0"/><circle cx="460.4" cy="362.62" r="2.0"/><circle cx="462.1" cy="362.94" r="2.0"/><circle cx="463.8" cy="362.22" r="2.0"/><circle cx="465.5" cy="362.49" r="2.0"/><circle cx="467.2" cy="362.5" r="2.0"/><circle cx="468.9" cy="363.1" r="2.0"/><circle cx="470.6" cy="362.63" r="2.0"/><circle cx="472.3" cy="363.13" r="2.0"/><circle cx="474" cy="362.3" r="2.0"/><circle cx="475.7" cy="362.5" r="2.0"/><circle cx="477.4" cy="362.88" r="2.0"/><circle cx="479.1" cy="363.16" r="2.0"/><circle cx="480.8" cy="362.64" r="2.0"/><circle cx="482.5" cy="362.37" r="2.0"/><circle cx="484.2" cy="362.25" r="2.0"/><circle cx="485.9" cy="362.74" r="2.0"/><circle cx="487.6" cy="362.33" r="2.0"/></g>
<g font-family="Liberation Sans, sans-serif" font-size="10.5" fill="#1e1e1e" stroke="#1e1e1e" stroke-width="0.2">
<text x="33.4" y="368.3" text-anchor="end" font-size="10.2" textLength="5.3" lengthAdjust="spacingAndGlyphs">0</text><text x="33.4" y="317.59" text-anchor="end" font-size="10.2" textLength="5.3" lengthAdjust="spacingAndGlyphs">2</text><text x="33.4" y="266.88" text-anchor="end" font-size="10.2" textLength="5.3" lengthAdjust="spacingAndGlyphs">4</text><text x="33.4" y="216.17" text-anchor="end" font-size="10.2" textLength="5.3" lengthAdjust="spacingAndGlyphs">6</text><text x="33.4" y="165.46" text-anchor="end" font-size="10.2" textLength="5.3" lengthAdjust="spacingAndGlyphs">8</text><text x="33.4" y="114.75" text-anchor="end" font-size="10.2" textLength="11.6" lengthAdjust="spacingAndGlyphs">10</text><text x="33.4" y="64.04" text-anchor="end" font-size="10.2" textLength="11.6" lengthAdjust="spacingAndGlyphs">12</text><text x="33.4" y="13.33" text-anchor="end" font-size="10.2" textLength="11.6" lengthAdjust="spacingAndGlyphs">14</text><text x="512.8" y="367.8" font-size="10.2" textLength="5.3" lengthAdjust="spacingAndGlyphs">0</text><text x="512.8" y="332.3" font-size="10.2" textLength="5.3" lengthAdjust="spacingAndGlyphs">2</text><text x="512.8" y="296.8" font-size="10.2" textLength="5.3" lengthAdjust="spacingAndGlyphs">4</text><text x="512.8" y="261.3" font-size="10.2" textLength="5.3" lengthAdjust="spacingAndGlyphs">6</text><text x="512.8" y="225.8" font-size="10.2" textLength="5.3" lengthAdjust="spacingAndGlyphs">8</text><text x="512.8" y="190.3" font-size="10.2" textLength="11.6" lengthAdjust="spacingAndGlyphs">10</text><text x="512.8" y="154.8" font-size="10.2" textLength="11.6" lengthAdjust="spacingAndGlyphs">12</text><text x="512.8" y="119.3" font-size="10.2" textLength="11.6" lengthAdjust="spacingAndGlyphs">14</text><text x="512.8" y="83.8" font-size="10.2" textLength="11.6" lengthAdjust="spacingAndGlyphs">16</text><text x="512.8" y="48.3" font-size="10.2" textLength="11.6" lengthAdjust="spacingAndGlyphs">18</text><text x="512.8" y="12.8" font-size="10.2" textLength="11.6" lengthAdjust="spacingAndGlyphs">20</text><text x="44.4" y="383" text-anchor="middle" textLength="50" lengthAdjust="spacingAndGlyphs">4/26/2018</text><text x="100.9" y="383" text-anchor="middle" textLength="48.2" lengthAdjust="spacingAndGlyphs">6/15/2018</text><text x="157.4" y="383" text-anchor="middle" textLength="43.2" lengthAdjust="spacingAndGlyphs">8/4/2018</text><text x="213.9" y="383" text-anchor="middle" textLength="48.2" lengthAdjust="spacingAndGlyphs">9/23/2018</text><text x="270.4" y="383" text-anchor="middle" textLength="54" lengthAdjust="spacingAndGlyphs">11/12/2018</text><text x="326.9" y="383" text-anchor="middle" textLength="43.2" lengthAdjust="spacingAndGlyphs">1/1/2019</text><text x="383.4" y="383" text-anchor="middle" textLength="48.2" lengthAdjust="spacingAndGlyphs">2/20/2019</text><text x="439.9" y="383" text-anchor="middle" textLength="48.2" lengthAdjust="spacingAndGlyphs">4/11/2019</text><text x="496.4" y="383" text-anchor="middle" textLength="48.7" lengthAdjust="spacingAndGlyphs">5/31/2019</text>
<text x="217" y="407.6" font-size="10" textLength="109.5" lengthAdjust="spacingAndGlyphs">Date (month/day/year)</text>
<text transform="translate(13.5,215.5) rotate(-90)" font-size="10.2" stroke-width="0.45" textLength="70" lengthAdjust="spacingAndGlyphs">Flow rate (L s<tspan font-size="6" dy="-2.8">-1</tspan><tspan dy="2.8">)</tspan></text>
<text transform="translate(541.3,263) rotate(-90)" font-size="10.2" stroke-width="0.45" textLength="156" lengthAdjust="spacingAndGlyphs">Dissolved P concentration (mg L<tspan font-size="6" dy="-2.8">-1</tspan><tspan dy="2.8">)</tspan></text>
<text x="197.6" y="48.1" font-size="10" textLength="43.5" lengthAdjust="spacingAndGlyphs">Flow rate</text>
<text x="198.6" y="79.7" font-size="10" textLength="120.8" lengthAdjust="spacingAndGlyphs">Dissolved P concentration</text>
</g>
<line x1="181" y1="44.9" x2="196.4" y2="44.9" stroke="#000" stroke-width="1.35"/>
<circle cx="188.8" cy="76.8" r="2.0" fill="#ED7D31"/>
</svg>
</body></html>
